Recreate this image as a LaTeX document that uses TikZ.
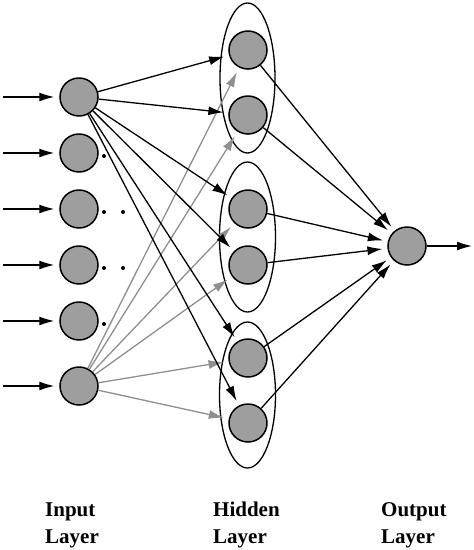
\documentclass[tikz,border=0pt]{standalone}
\usepackage{fontspec}
\setmainfont{Liberation Serif}
\usetikzlibrary{arrows.meta}
\newlength{\du}
\setlength{\du}{1pt}
\definecolor{dialinecolor}{rgb}{0.000000, 0.000000, 0.000000}
\definecolor{neuronfill}{rgb}{0.620000, 0.620000, 0.620000}
\definecolor{greylinecolor}{rgb}{0.560000, 0.560000, 0.560000}
\tikzset{
  neuron/.style={circle,draw=dialinecolor,fill=neuronfill,line width=1.5pt,minimum size=38pt,inner sep=0pt},
  link/.style={draw=dialinecolor,line width=1.3pt,shorten >=5pt,-{Latex[length=15pt,width=9pt]}},
  greylink/.style={link,draw=greylinecolor},
  group/.style={draw=dialinecolor,line width=1.3pt},
  layertext/.style={anchor=base west,inner sep=0pt,align=left,font=\bfseries\fontsize{21}{27}\selectfont},
}
\begin{document}
\begin{tikzpicture}[yscale=-1]
\useasboundingbox (0\du,0\du) rectangle (474\du,550\du);
% groups of the hidden layer
\draw[group] (247.500000\du,78.000000\du) ellipse [x radius=27.5pt,y radius=75pt];
\draw[group] (247.500000\du,237.000000\du) ellipse [x radius=28pt,y radius=75pt];
\draw[group] (247.500000\du,395.000000\du) ellipse [x radius=28pt,y radius=73pt];
% input layer
\node[neuron] (in1) at (79.000000\du,97.000000\du){};
\node[neuron] (in2) at (79.000000\du,153.000000\du){};
\node[neuron] (in3) at (79.000000\du,209.000000\du){};
\node[neuron] (in4) at (79.000000\du,265.000000\du){};
\node[neuron] (in5) at (79.000000\du,321.000000\du){};
\node[neuron] (in6) at (79.000000\du,386.000000\du){};
\coordinate (src1) at (3.000000\du,97.000000\du);
\coordinate (src2) at (3.000000\du,153.000000\du);
\coordinate (src3) at (3.000000\du,209.000000\du);
\coordinate (src4) at (3.000000\du,265.000000\du);
\coordinate (src5) at (3.000000\du,321.000000\du);
\coordinate (src6) at (3.000000\du,386.000000\du);
% hidden layer
\node[neuron] (hid1) at (248.000000\du,50.000000\du){};
\node[neuron] (hid2) at (248.000000\du,115.000000\du){};
\node[neuron] (hid3) at (248.000000\du,209.000000\du){};
\node[neuron] (hid4) at (248.000000\du,265.000000\du){};
\node[neuron] (hid5) at (248.000000\du,358.000000\du){};
\node[neuron] (hid6) at (248.000000\du,423.000000\du){};
% output layer
\node[neuron] (out) at (407.000000\du,246.000000\du){};
\coordinate (res) at (472.000000\du,246.000000\du);
% dots
\fill[dialinecolor] (104.000000\du,156.000000\du) circle (2pt);
\fill[dialinecolor] (104.000000\du,212.000000\du) circle (2pt);
\fill[dialinecolor] (123.000000\du,212.000000\du) circle (2pt);
\fill[dialinecolor] (104.000000\du,268.000000\du) circle (2pt);
\fill[dialinecolor] (123.000000\du,268.000000\du) circle (2pt);
\fill[dialinecolor] (104.000000\du,324.000000\du) circle (2pt);
% inputs
\draw[link] (src1) -- (in1);
\draw[link] (src2) -- (in2);
\draw[link] (src3) -- (in3);
\draw[link] (src4) -- (in4);
\draw[link] (src5) -- (in5);
\draw[link] (src6) -- (in6);
% from the last input
\draw[greylink] (in6) -- (hid1);
\draw[greylink] (in6) -- (hid2);
\draw[greylink] (in6) -- (hid3);
\draw[greylink] (in6) -- (hid4);
\draw[greylink] (in6) -- (hid5);
\draw[greylink] (in6) -- (hid6);
% from the first input
\draw[link] (in1) -- (hid1);
\draw[link] (in1) -- (hid2);
\draw[link] (in1) -- (hid3);
\draw[link] (in1) -- (hid4);
\draw[link] (in1) -- (hid5);
\draw[link] (in1) -- (hid6);
% to the output
\draw[link] (hid1) -- (out);
\draw[link] (hid2) -- (out);
\draw[link] (hid3) -- (out);
\draw[link] (hid4) -- (out);
\draw[link] (hid5) -- (out);
\draw[link] (hid6) -- (out);
\draw[link,shorten >=0pt] (out) -- (res);
% layer names
\node[layertext] (inlabel) at (45.000000\du,543.000000\du){Input\\Layer};
\node[layertext] (hidlabel) at (213.000000\du,543.000000\du){Hidden\\Layer};
\node[layertext] (outlabel) at (381.000000\du,543.000000\du){Output\\Layer};
\end{tikzpicture}
\end{document}
